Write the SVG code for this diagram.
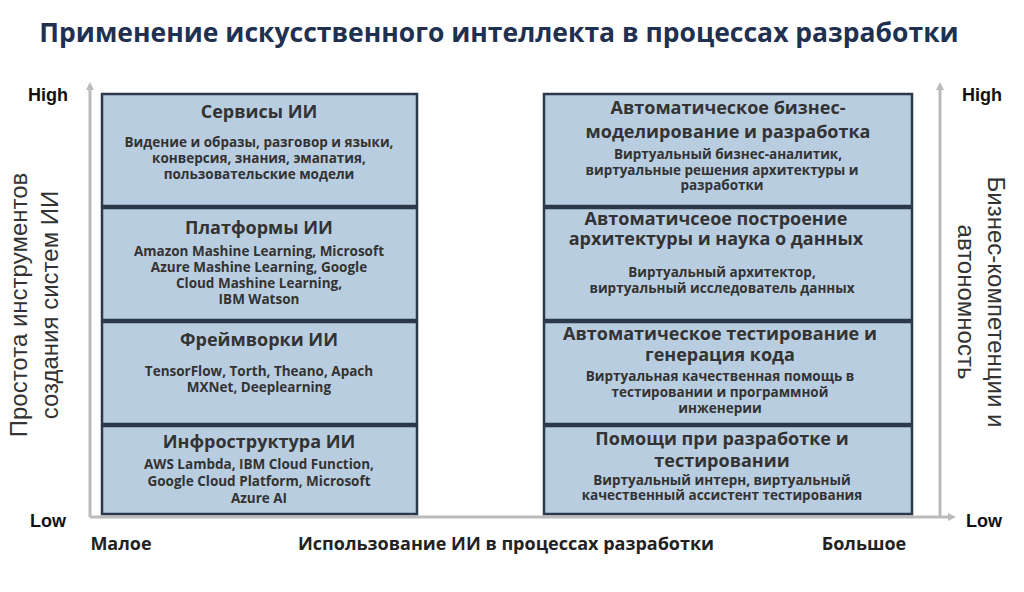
<svg xmlns="http://www.w3.org/2000/svg" width="1024" height="592" viewBox="0 0 1024 592">
<style>
.box{fill:#b9cde0;stroke:#2b3a4a;stroke-width:2.5}
.t{font-family:"Open Sans","Liberation Sans",sans-serif;font-weight:bold;fill:#333;text-anchor:middle}
.h{font-size:18px}
.s{font-size:13.5px}
.ax{stroke:#bbb;stroke-width:3;fill:none}
.lbl{font-family:"Liberation Sans",Arial,sans-serif;font-weight:bold;font-size:18px;fill:#111}
.rot{font-family:"Liberation Sans",Arial,sans-serif;font-size:24px;fill:#333;text-anchor:middle}
</style>
<defs><marker id="ar" markerWidth="8" markerHeight="8" refX="4" refY="4" orient="auto" markerUnits="userSpaceOnUse"><path d="M0,0L8,4L0,8z" fill="#bbb"/></marker></defs>
<rect width="1024" height="592" fill="#fff"/>
<text x="499" y="42" class="t" style="font-size:26.5px;fill:#1f3050">Применение искусственного интеллекта в процессах разработки</text>
<g id="connectors">
<line class="ax" x1="90" y1="517" x2="90" y2="86" marker-end="url(#ar)"/>
<line class="ax" x1="90" y1="517" x2="952" y2="517" marker-end="url(#ar)"/>
<line class="ax" x1="940" y1="517" x2="940" y2="86" marker-end="url(#ar)"/>
</g>
<text x="28" y="101" class="lbl">High</text>
<text x="30" y="527" class="lbl">Low</text>
<text x="962" y="101" class="lbl">High</text>
<text x="966" y="527" class="lbl">Low</text>
<text transform="translate(27,305) rotate(-90)" class="rot">Простота инструментов</text>
<text transform="translate(58,305) rotate(-90)" class="rot">создания систем ИИ</text>
<text transform="translate(988,302) rotate(90)" class="rot">Бизнес-компетенции и</text>
<text transform="translate(958,302) rotate(90)" class="rot">автономность</text>
<text x="121" y="550" class="t" style="font-size:18px;fill:#222">Малое</text>
<text x="506" y="550" class="t" style="font-size:18px;fill:#222">Использование ИИ в процессах разработки</text>
<text x="864" y="550" class="t" style="font-size:18px;fill:#222">Большое</text>
<g id="n1"><rect class="box" x="102" y="94" width="315" height="112"/>
<text x="259" y="118" class="t h">Сервисы ИИ</text>
<text x="259" y="147" class="t s">Видение и образы, разговор и языки,</text>
<text x="259" y="163" class="t s">конверсия, знания, эмапатия,</text>
<text x="259" y="179" class="t s">пользовательские модели</text></g>
<g id="n2"><rect class="box" x="102" y="208" width="315" height="112"/>
<text x="259" y="234" class="t h">Платформы ИИ</text>
<text x="259" y="256" class="t s">Amazon Mashine Learning, Microsoft</text>
<text x="259" y="272" class="t s">Azure Mashine Learning, Google</text>
<text x="259" y="288" class="t s">Cloud Mashine Learning,</text>
<text x="259" y="304" class="t s">IBM Watson</text></g>
<g id="n3"><rect class="box" x="102" y="322" width="315" height="102"/>
<text x="259" y="346" class="t h">Фреймворки ИИ</text>
<text x="259" y="376" class="t s">TensorFlow, Torth, Theano, Apach</text>
<text x="259" y="392" class="t s">MXNet, Deeplearning</text></g>
<g id="n4"><rect class="box" x="102" y="426" width="315" height="88"/>
<text x="259" y="448" class="t h">Инфроструктура ИИ</text>
<text x="259" y="469" class="t s">AWS Lambda, IBM Cloud Function,</text>
<text x="259" y="486" class="t s">Google Cloud Platform, Microsoft</text>
<text x="259" y="503" class="t s">Azure AI</text></g>
<g id="n5"><rect class="box" x="544" y="94" width="368" height="112"/>
<text x="728" y="114" class="t h">Автоматическое бизнес-</text>
<text x="728" y="138" class="t h">моделирование и разработка</text>
<text x="728" y="159" class="t s">Виртуальный бизнес-аналитик,</text>
<text x="722" y="175" class="t s">виртуальные решения архитектуры и</text>
<text x="722" y="190" class="t s">разработки</text></g>
<g id="n6"><rect class="box" x="544" y="208" width="368" height="112"/>
<text x="716" y="225" class="t h">Автоматичсеое построение</text>
<text x="716" y="245" class="t h">архитектуры и наука о данных</text>
<text x="722" y="277" class="t s">Виртуальный архитектор,</text>
<text x="722" y="293" class="t s">виртуальный исследователь данных</text></g>
<g id="n7"><rect class="box" x="544" y="322" width="368" height="102"/>
<text x="720" y="340" class="t h">Автоматическое тестирование и</text>
<text x="720" y="361" class="t h">генерация кода</text>
<text x="720" y="381" class="t s">Виртуальная качественная помощь в</text>
<text x="720" y="397" class="t s">тестировании и программной</text>
<text x="720" y="413" class="t s">инженерии</text></g>
<g id="n8"><rect class="box" x="544" y="426" width="368" height="88"/>
<text x="722" y="445" class="t h">Помощи при разработке и</text>
<text x="722" y="467" class="t h">тестировании</text>
<text x="722" y="485" class="t s">Виртуальный интерн, виртуальный</text>
<text x="722" y="500" class="t s">качественный ассистент тестирования</text></g>
</svg>
